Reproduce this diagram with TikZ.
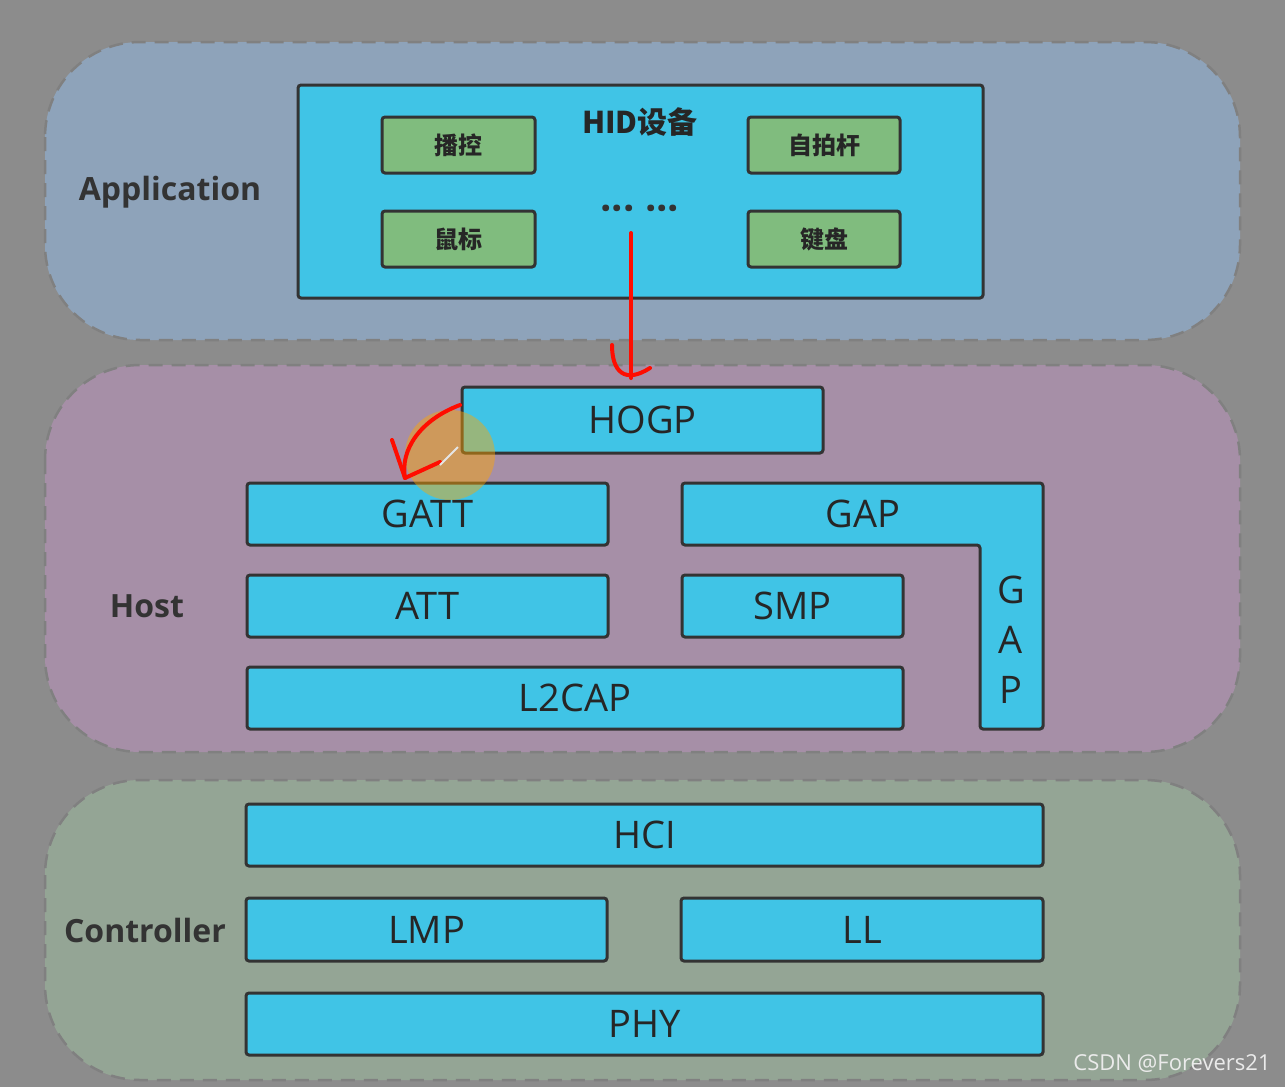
\documentclass[tikz,border=0pt]{standalone}
\usepackage{fontspec}
\setmainfont{Open Sans}
\newfontfamily\cjk{Noto Sans CJK SC}
\begin{document}
\begin{tikzpicture}[x=1pt,y=-1pt,
 band/.style={draw=black!50,dash pattern=on 14pt off 9pt,line width=2.5pt,rounded corners=95pt},
 blk/.style={draw=black!80,line width=3pt,rounded corners=3pt},
 grn/.style={draw=black!80,line width=3pt,fill=gr,rounded corners=3pt},
 lbl/.style={font=\fontsize{38}{40}\selectfont,text=black!85},
 cn/.style={font=\cjk\bfseries\fontsize{24}{26}\selectfont,text=black!85},
 side/.style={font=\bfseries\fontsize{32}{34}\selectfont,text=black!80},
 redl/.style={draw=red!90!orange,line width=4pt,line cap=round,line join=round}]
\definecolor{cy}{HTML}{40C4E6}
\definecolor{gr}{HTML}{80BC7E}
\tikzset{blk/.append style={fill=cy}}
\useasboundingbox (0,0) rectangle (1285,1087);
\definecolor{bg}{HTML}{8C8C8C}
\fill[bg] (0,0) rectangle (1285,1087);
\definecolor{ap}{HTML}{8EA3BA}\definecolor{hs}{HTML}{A68FA7}\definecolor{ct}{HTML}{94A595}
\path[band,fill=ap] (45,42) rectangle (1240,340);
\path[band,fill=hs] (45,365) rectangle (1240,752);
\path[band,fill=ct] (45,780) rectangle (1240,1080);
\node[side] (app) at (170,192) {Application};
\node[side] (host) at (147,606) {Host};
\node[side] (ctl) at (145,930) {Controller};
\draw[blk] (298,85) rectangle (983,298);
\node[cn,font=\cjk\bfseries\fontsize{30}{32}\selectfont] (hid) at (640,122) {HID设备};
\draw[grn] (382,117) rectangle node[cn] (bk) {播控} (535,173);
\draw[grn] (748,117) rectangle node[cn] (zp) {自拍杆} (900,173);
\draw[grn] (382,211) rectangle node[cn] (sb) {鼠标} (535,267);
\draw[grn] (748,211) rectangle node[cn] (jp) {键盘} (900,267);
\node[font=\bfseries\fontsize{40}{40}\selectfont,text=black!80] (dots) at (640,214) {··· ···};
\draw[blk] (462,387) rectangle node[lbl] (hogp) {HOGP} (823,453);
\draw[blk] (247,483) rectangle node[lbl] (gatt) {GATT} (608,545);
\draw[blk] (247,575) rectangle node[lbl] (att) {ATT} (608,637);
\draw[blk] (247,667) rectangle node[lbl] (l2) {L2CAP} (903,729);
\draw[blk] (682,575) rectangle node[lbl] (smp) {SMP} (903,637);
\draw[blk] (682,483) -- (1043,483) -- (1043,729) -- (980,729) -- (980,545) -- (682,545) -- cycle;
\node[lbl] (gap) at (863,514) {GAP};
\node[lbl] (g1) at (1011,590) {G};
\node[lbl] (g2) at (1011,640) {A};
\node[lbl] (g3) at (1011,690) {P};
\draw[blk] (246,804) rectangle node[lbl] (hci) {HCI} (1043,866);
\draw[blk] (246,898) rectangle node[lbl] (lmp) {LMP} (607,961);
\draw[blk] (681,898) rectangle node[lbl] (ll) {LL} (1043,961);
\draw[blk] (246,993) rectangle node[lbl] (phy) {PHY} (1043,1055);
\fill[orange!70!yellow,opacity=0.45] (450,455) circle (45);
\coordinate (a0) at (631,233); \coordinate (a1) at (631,378);
\draw[redl] (a0) -- (a1);
\draw[redl] (612,345) .. controls (612,372) and (625,384) .. (650,368);
\coordinate (b0) at (460,405); \coordinate (b1) at (405,478);
\draw[redl] (b0) .. controls (420,420) and (400,450) .. (b1);
\draw[redl] (392,440) -- (b1) -- (440,462);
\draw[white!90!black,line width=2pt] (440,465) -- (458,447);
\node[font=\fontsize{22}{24}\selectfont,text=white!92!black] (wm) at (1172,1064) {CSDN @Forevers21};
\end{tikzpicture}
\end{document}
